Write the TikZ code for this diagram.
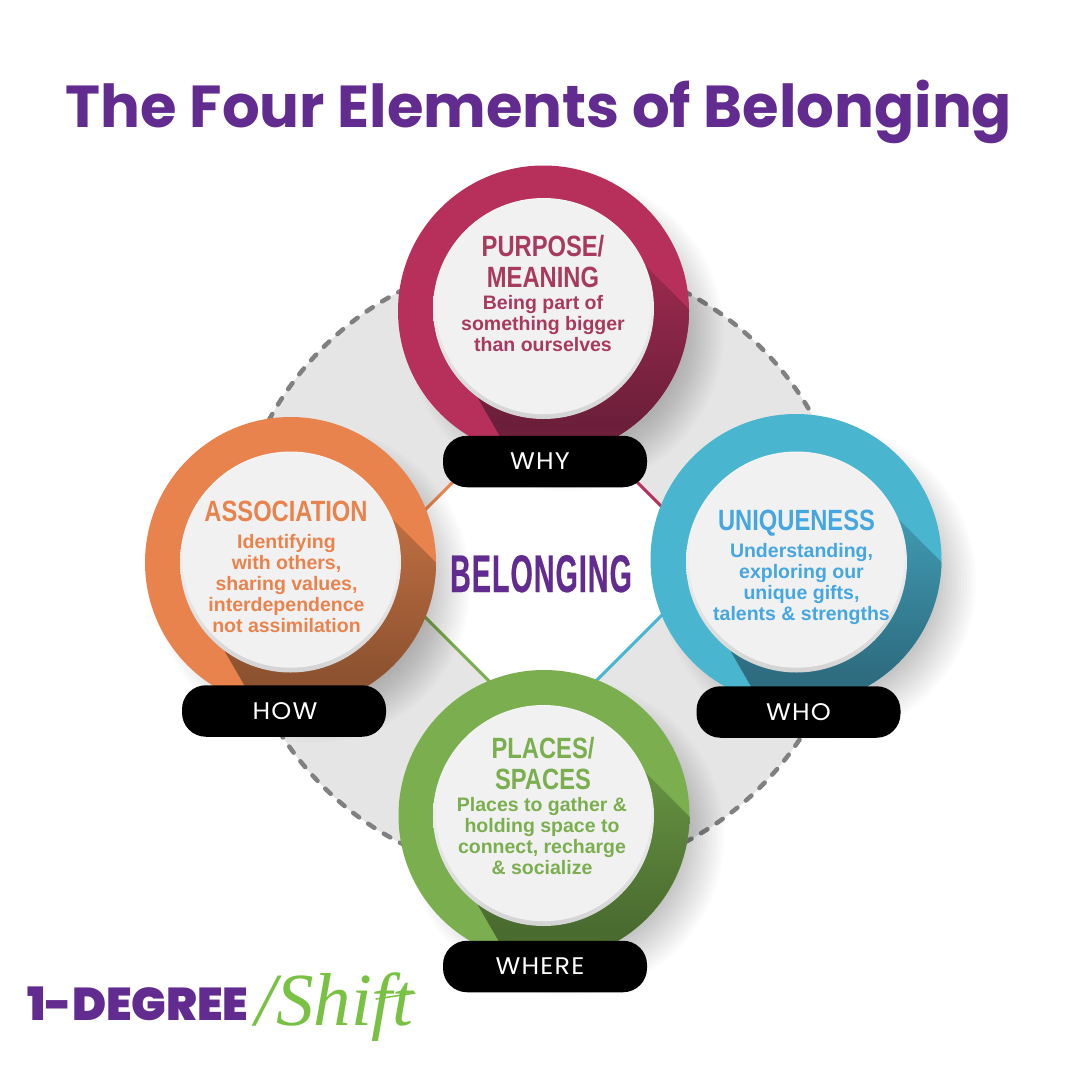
\documentclass[tikz,border=0pt]{standalone}
\usepackage{fontspec}
\setmainfont{Liberation Sans}
\newfontfamily\titlef{Poppins}
\newfontfamily\pillf[LetterSpace=5,FakeStretch=1.06]{Poppins}
\newfontfamily\headf[FakeStretch=0.81]{Liberation Sans}
\newfontfamily\centerf[FakeStretch=0.54,LetterSpace=2,BoldFeatures={FakeBold=0.4}]{Liberation Sans}
\newfontfamily\logof{Poppins Black}
\newfontfamily\scriptf{Liberation Serif}
\definecolor{titlepurple}{HTML}{622B8F}
\definecolor{greyfill}{HTML}{E5E5E5}
\definecolor{dashgrey}{HTML}{808080}
\definecolor{cMag}{HTML}{B72F5B}
\definecolor{cMagT}{HTML}{A83A5E}
\definecolor{cOra}{HTML}{E8834D}
\definecolor{cCya}{HTML}{4AB5CE}
\definecolor{cCyaT}{HTML}{45A6E0}
\definecolor{cGre}{HTML}{7BAE4F}
\definecolor{shiftgreen}{HTML}{79C143}
\definecolor{magdark}{HTML}{6C1F3A}
\definecolor{maglight}{HTML}{8F2748}
\definecolor{oradark}{HTML}{8D5230}
\definecolor{oralight}{HTML}{A0603A}
\definecolor{cyadark}{HTML}{2E6C80}
\definecolor{cyalight}{HTML}{3A8AA0}
\definecolor{gredark}{HTML}{4A6B30}
\definecolor{grelight}{HTML}{587F38}
\tikzset{
 ringnode/.style={circle,minimum size=291pt,inner sep=0pt,outer sep=0pt},
 discnode/.style={circle,minimum size=215.5pt,inner sep=0pt,outer sep=0pt,fill=white!94.5!black},
 pillnode/.style={fill=black,rounded corners=24pt,minimum width=204pt,minimum height=51.5pt,inner sep=0pt,text=white,font=\pillf\fontsize{24}{24}\selectfont},
 head/.style={font=\headf\bfseries\fontsize{29.3}{31}\selectfont,align=center,anchor=base,inner sep=0pt},
 body/.style={font=\bfseries\fontsize{19.5}{21}\selectfont,align=center,anchor=base,inner sep=0pt},
 link/.style={line width=3pt},
}
\newcommand{\bigring}[8]{%
 \foreach \softr in {116,119,...,158} {\fill[black,opacity=0.016] (#2+22,#3+22) circle (\softr pt);}
 \node[ringnode,fill=#6] (ring#1) at (#2,#3) {};
 \begin{scope}
  \clip (#2,#3) circle (145.5pt);
  \begin{scope}[shift={(#4,#5)},rotate=-45]
   \shade[top color=#8!45!#6,bottom color=#8,middle color=#7] (0,-102.5) -- (300,-102.5) -- (300,125) -- (59,121) -- (18,110) -- (0,100) -- cycle;
  \end{scope}
 \end{scope}
 \shade[top color=white!97!black,bottom color=white!83!black,middle color=white!93!black] (#4,#5) circle (110.5pt);
 \node[discnode] (disc#1) at (#4,#5-2) {};
}
\begin{document}
\begin{tikzpicture}[x=1pt,y=-1pt]
\useasboundingbox (0,0) rectangle (1080,1080);
\fill[white] (0,0) rectangle (1080,1080);
\node[font=\titlef\bfseries\fontsize{59.2}{60}\selectfont,text=titlepurple,anchor=base,inner sep=0pt] (title) at (539,127) {The Four Elements of Belonging};

\coordinate (disccentre) at (542,567);
\fill[greyfill] (disccentre) circle (310pt);
\draw[dashgrey,line width=4.5pt,line cap=round,dash pattern=on 7.5pt off 11pt] (disccentre) circle (310pt);
\coordinate (apexT) at (545,390);
\coordinate (apexL) at (371.5,563.5);
\coordinate (apexB) at (542.5,734.5);
\coordinate (apexR) at (716,561);
\fill[white] (apexT) -- (apexL) -- (apexB) -- (apexR) -- cycle;
\draw[link,cOra] (apexT) -- (apexL);
\draw[link,cGre] (apexL) -- (apexB);
\draw[link,cCya] (apexB) -- (apexR);
\draw[link,cMag] (apexR) -- (apexT);

\bigring{T}{543.5}{311}{543.5}{308.5}{cMag}{magdark}{maglight}
\bigring{L}{290.5}{562.5}{290.5}{562}{cOra}{oradark}{oralight}
\bigring{R}{796}{559.5}{796.5}{562}{cCya}{cyadark}{cyalight}
\bigring{B}{544}{815.5}{543.5}{815.5}{cGre}{gredark}{grelight}

\node[head,text=cMagT] (headT) at (543,287) {PURPOSE/\\MEANING};
\node[body,text=cMagT] (bodyT) at (543,351.7) {Being part of\\something bigger\\than ourselves};
\node[head,text=cOra] (headL) at (286,521.7) {ASSOCIATION};
\node[body,text=cOra] (bodyL) at (286.5,632.7) {Identifying\\with others,\\sharing values,\\interdependence\\not assimilation};
\node[head,text=cCyaT] (headR) at (796.5,530) {UNIQUENESS};
\node[body,text=cCyaT] (bodyR) at (801.5,620) {Understanding,\\exploring our\\unique gifts,\\talents \& strengths};
\node[head,text=cGre] (headB) at (543,789) {PLACES/\\SPACES};
\node[body,text=cGre] (bodyB) at (542,874) {Places to gather \&\\holding space to\\connect, recharge\\\& socialize};

\node[font=\centerf\bfseries\fontsize{53}{53}\selectfont,text=titlepurple,anchor=base,inner sep=0pt] (belonging) at (541,592) {BELONGING};

\node[pillnode] (pillT) at (545,461.5) {WHY\hspace*{10pt}};
\node[pillnode] (pillL) at (284,711) {\hspace*{2pt}HOW};
\node[pillnode] (pillR) at (798.5,712) {WHO};
\node[pillnode] (pillB) at (545,966.5) {WHERE\hspace*{10pt}};

\node[font=\logof\fontsize{46}{46}\selectfont,text=titlepurple,anchor=base west,inner sep=0pt] (logoA) at (27,1020) {1-DEGREE};
\node[font=\scriptf\itshape\fontsize{75}{75}\selectfont,text=shiftgreen,anchor=base west,inner sep=0pt] (logoB) at (255,1025) {/Shift};
\coordinate (barL) at (376,999);
\coordinate (barR) at (415,993);
\draw[shiftgreen,line width=1.5pt,line cap=round] (barL) -- (barR);
\end{tikzpicture}
\end{document}
